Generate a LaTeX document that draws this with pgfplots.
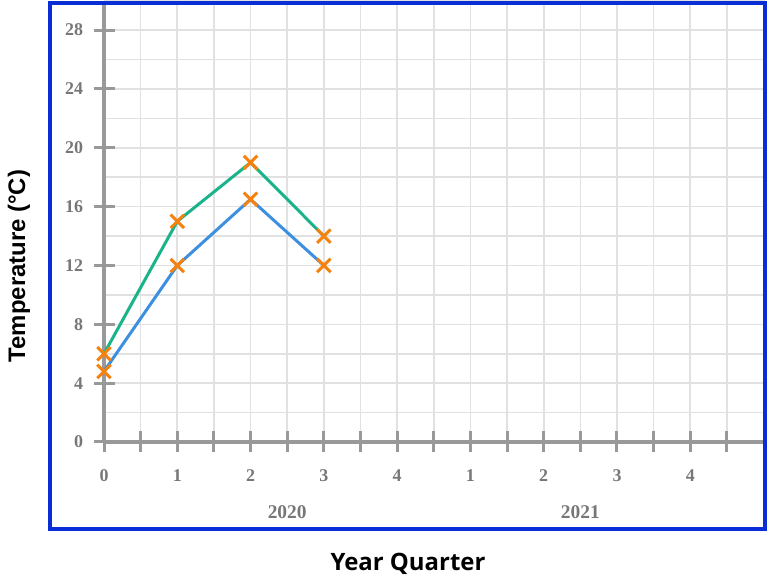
\documentclass[border=0pt]{standalone}
\usepackage{fontspec}
\setmainfont{Liberation Serif}
\newfontfamily\opens{Open Sans}
\newfontfamily\arialf{Liberation Sans}
\usepackage{pgfplots}
\pgfplotsset{compat=1.18}
\definecolor{framebl}{HTML}{0A2ED6}
\definecolor{axgray}{HTML}{999999}
\definecolor{gridgray}{HTML}{E1E1E1}
\definecolor{labgray}{HTML}{777777}
\definecolor{lgreen}{HTML}{1AB38A}
\definecolor{lblue}{HTML}{3D8FE0}
\definecolor{xorange}{HTML}{F5820F}
\begin{document}
\begin{tikzpicture}[x=1bp,y=1bp]
\path[use as bounding box] (0,0) rectangle (768,580);
\begin{axis}[
  at={(104bp,138bp)}, anchor=origin,
  scale only axis, width=661bp, height=441.3bp,
  xmin=0, xmax=9.02, ymin=0, ymax=30,
  clip=false,
  axis lines*=left,
  axis line style={axgray, line width=3.5bp},
  xtick={0,0.5,...,8.5},
  xticklabels={0,,1,,2,,3,,4,,1,,2,,3,,4,},
  ytick={0,4,...,28},
  minor ytick={2,6,...,30},
  tick align=center,
  major tick length=21bp,
  minor tick length=0bp,
  tick style={axgray, line width=3bp},
  grid=both,
  major grid style={gridgray, line width=1.6bp},
  minor grid style={gridgray, line width=1.6bp},
  /pgf/number format/assume math mode=true,
  ticklabel style={font=\fontsize{18}{20}\selectfont\bfseries, text=labgray},
  xticklabel style={yshift=-14bp},
  yticklabel style={xshift=-7bp},
]
\addplot[lblue, line width=3bp, mark=x, mark size=9.5bp,
  mark options={xorange, line width=3bp}]
  coordinates {(0,4.8) (1,12) (2,16.5) (3,12)};
\addplot[lgreen, line width=3bp, mark=x, mark size=9.5bp,
  mark options={xorange, line width=3bp}]
  coordinates {(0,6) (1,15) (2,19) (3,14)};
\node[font=\fontsize{19.5}{21}\selectfont\bfseries, text=labgray] at (axis cs:2.5,0) [yshift=-70bp] {2020};
\node[font=\fontsize{19.5}{21}\selectfont\bfseries, text=labgray] at (axis cs:6.5,0) [yshift=-70bp] {2021};
\end{axis}
\draw[framebl, line width=4bp] (50,51) rectangle (765,577);
\node[font=\opens\bfseries\fontsize{24}{26}\selectfont] at (408,16) {Year Quarter};
\node[font=\arialf\bfseries\fontsize{24}{26}\selectfont, rotate=90] at (19,314) {Temperature (°C)};
\end{tikzpicture}
\end{document}
